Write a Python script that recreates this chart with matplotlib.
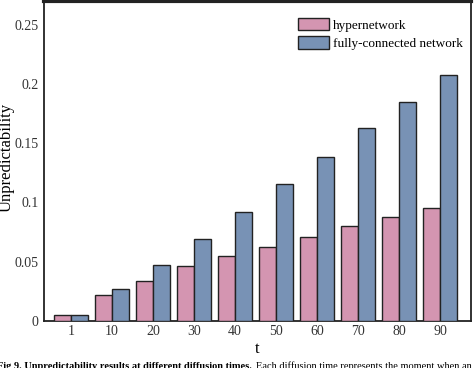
import matplotlib

matplotlib.use("Agg")
import matplotlib.pyplot as plt
import numpy as np

plt.rcParams["font.family"] = ["Liberation Serif", "DejaVu Serif"]

t_labels = ["1", "10", "20", "30", "40", "50", "60", "70", "80", "90"]
hypernetwork = [0.005, 0.022, 0.034, 0.046, 0.055, 0.062, 0.071, 0.080, 0.088, 0.095]
fully_connected = [0.005, 0.027, 0.047, 0.069, 0.092, 0.116, 0.138, 0.163, 0.185, 0.208]

PINK = "#d495b1"
BLUE = "#7892b5"

fig = plt.figure(figsize=(4.74, 3.68), dpi=100)
ax = fig.add_axes([0.093, 0.128, 0.901, 0.869])

x = np.arange(len(t_labels))
w = 0.41
ax.bar(x - w / 2, hypernetwork, w, color=PINK, edgecolor="#222222", linewidth=1.0,
       label="hypernetwork", zorder=3)
ax.bar(x + w / 2, fully_connected, w, color=BLUE, edgecolor="#222222", linewidth=1.0,
       label="fully-connected network", zorder=3)

ax.set_xlim(-0.66, 9.76)
ax.set_ylim(0, 0.27)
ax.set_xticks(x)
ax.set_xticklabels(t_labels)
ax.set_yticks([0, 0.05, 0.1, 0.15, 0.2, 0.25])
ax.set_yticklabels(["0", "0.05", "0.1", "0.15", "0.2", "0.25"])
ax.tick_params(length=0, labelsize=10, colors="#333333", pad=4)
ax.tick_params(axis="x", pad=3)
for sp in ax.spines.values():
    sp.set_linewidth(1.3)
    sp.set_color("#222222")
ax.spines["top"].set_linewidth(3)

ax.set_xlabel("t", fontsize=12, labelpad=2)
ax.set_ylabel("Unpredictability", fontsize=12)
ax.yaxis.set_label_coords(-0.068, 0.51)

ax.legend(loc="upper left", bbox_to_anchor=(0.595, 0.947), fontsize=9.5, frameon=False,
          handlelength=2.3, handleheight=1.05, handletextpad=0.35, labelspacing=0.35,
          borderaxespad=0, borderpad=0)

fig.text(-0.006, -0.004, "Fig 9. Unpredictability results at different diffusion times.",
         fontsize=7.5, fontweight="bold", ha="left", va="baseline")
fig.text(0.54, -0.004, "Each diffusion time represents the moment when an",
         fontsize=7.5, ha="left", va="baseline")

fig.savefig("out.png", dpi=100)
